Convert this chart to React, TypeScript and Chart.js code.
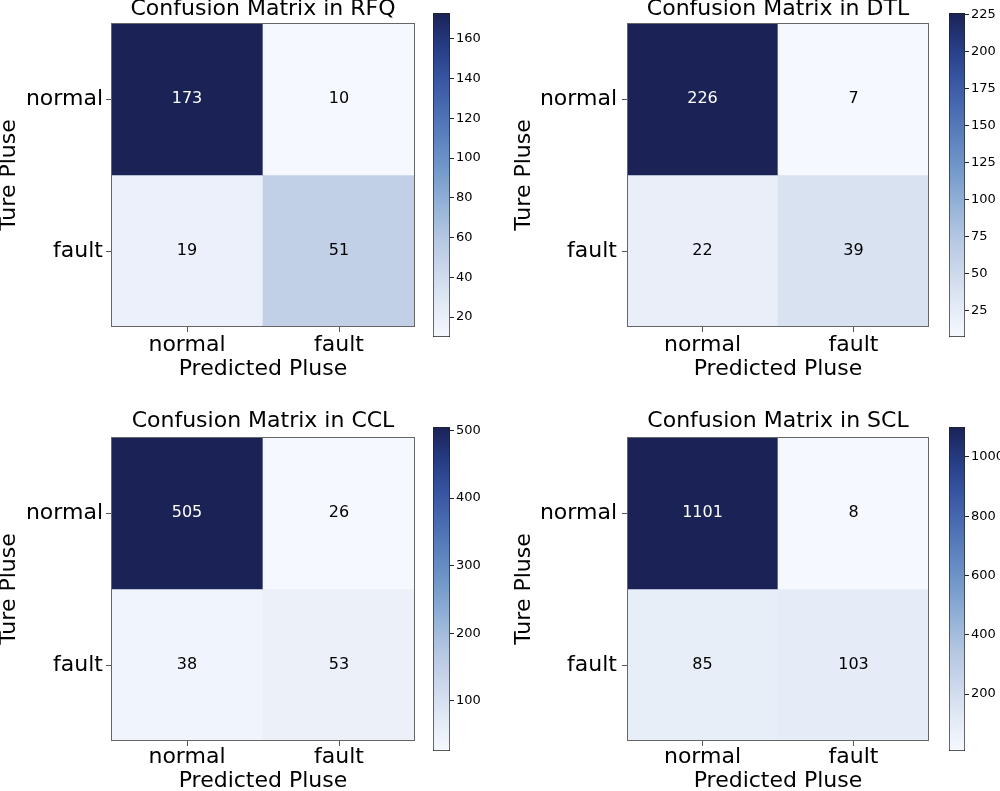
import React, { useEffect, useRef } from "react";
import { Chart, registerables } from "chart.js";

Chart.register(...registerables);
Chart.defaults.font.family = "'DejaVu Sans', 'Liberation Sans', sans-serif";

// ---------- data ----------
const CLASS_LABELS = ["normal", "fault"];
const X_AXIS_TITLE = "Predicted Pluse";
const Y_AXIS_TITLE = "Ture Pluse";

const RFQ_MATRIX = [
  [173, 10],
  [19, 51],
];
const DTL_MATRIX = [
  [226, 7],
  [22, 39],
];
const CCL_MATRIX = [
  [505, 26],
  [38, 53],
];
const SCL_MATRIX = [
  [1101, 8],
  [85, 103],
];

const RFQ_TICKS = [20, 40, 60, 80, 100, 120, 140, 160];
const DTL_TICKS = [25, 50, 75, 100, 125, 150, 175, 200, 225];
const CCL_TICKS = [100, 200, 300, 400, 500];
const SCL_TICKS = [200, 400, 600, 800, 1000];

const TITLES = [
  "Confusion Matrix in RFQ",
  "Confusion Matrix in DTL",
  "Confusion Matrix in CCL",
  "Confusion Matrix in SCL",
];

// Blues-like colour map (as it appears in the picture)
const COLOR_STOPS = [
  "#f5f8fe",
  "#e3eaf6",
  "#ccd8ec",
  "#b6c8e3",
  "#97b4d9",
  "#779dcc",
  "#5f86bf",
  "#4a6db2",
  "#3655a0",
  "#253c82",
  "#1b2256",
];

function hexToRgb(h: string) {
  const n = parseInt(h.slice(1), 16);
  return [(n >> 16) & 255, (n >> 8) & 255, n & 255];
}
function colorFor(t: number) {
  const tt = Math.max(0, Math.min(1, t));
  const pos = tt * (COLOR_STOPS.length - 1);
  const i = Math.min(COLOR_STOPS.length - 2, Math.floor(pos));
  const f = pos - i;
  const a = hexToRgb(COLOR_STOPS[i]);
  const b = hexToRgb(COLOR_STOPS[i + 1]);
  const c = a.map((v, k) => Math.round(v + (b[k] - v) * f));
  return `rgb(${c[0]},${c[1]},${c[2]})`;
}

// ---------- layout ----------
type Panel = {
  matrix: number[][];
  ticks: number[];
  title: string;
  left: number;
  top: number;
  w: number;
  h: number;
  yAxisW: number;
  xAxisH: number;
  padRight: number;
  titlePadTop: number;
  titlePadBottom: number;
  yTitlePad: number;
  yTickPad: number;
  xTickPad: number;
  xTitlePadBottom: number;
  cbLeft: number;
  cbW: number;
  cbPadLeft: number;
  cbAxisW: number;
  cbPadTop: number;
  cbPadBottom: number;
};

const TOP_ROW = {
  top: 0,
  h: 391,
  xAxisH: 64,
  titlePadTop: 0.6,
  titlePadBottom: 4.8,
  xTickPad: 0,
  xTitlePadBottom: 8.4,
  cbPadTop: 13,
  cbPadBottom: 54,
};
const BOTTOM_ROW = {
  top: 391,
  h: 400,
  xAxisH: 50,
  titlePadTop: 21.6,
  titlePadBottom: 6.8,
  xTickPad: -2,
  xTitlePadBottom: -3.6,
  cbPadTop: 36,
  cbPadBottom: 40,
};
const LEFT_COL = {
  left: 0,
  w: 425,
  yAxisW: 111,
  padRight: 10,
  yTitlePad: 0,
  yTickPad: 3,
  cbLeft: 425,
  cbW: 75,
  cbPadLeft: 8,
  cbAxisW: 50,
};
const RIGHT_COL = {
  left: 500,
  w: 440,
  yAxisW: 127,
  padRight: 11,
  yTitlePad: 15,
  yTickPad: 5,
  cbLeft: 940,
  cbW: 60,
  cbPadLeft: 9,
  cbAxisW: 35,
};

const PANELS: Panel[] = [
  { matrix: RFQ_MATRIX, ticks: RFQ_TICKS, title: TITLES[0], ...TOP_ROW, ...LEFT_COL },
  { matrix: DTL_MATRIX, ticks: DTL_TICKS, title: TITLES[1], ...TOP_ROW, ...RIGHT_COL },
  { matrix: CCL_MATRIX, ticks: CCL_TICKS, title: TITLES[2], ...BOTTOM_ROW, ...LEFT_COL },
  { matrix: SCL_MATRIX, ticks: SCL_TICKS, title: TITLES[3], ...BOTTOM_ROW, ...RIGHT_COL },
];

// ---------- plugins ----------
const framePlugin = {
  id: "frame",
  afterDatasetsDraw(chart: any, _args: any, opts: any) {
    const { ctx, chartArea } = chart;
    ctx.save();
    ctx.strokeStyle = opts.color || "#666";
    ctx.lineWidth = 1;
    ctx.strokeRect(
      Math.round(chartArea.left) + 0.5,
      Math.round(chartArea.top) + 0.5,
      Math.round(chartArea.right - chartArea.left) - 1,
      Math.round(chartArea.bottom - chartArea.top) - 1
    );
    ctx.restore();
  },
};

const annotatePlugin = {
  id: "cellText",
  afterDatasetsDraw(chart: any, _args: any, opts: any) {
    const m: number[][] = opts.matrix;
    if (!m) return;
    const flat = m.flat();
    const vmax = Math.max(...flat);
    const { ctx } = chart;
    const xs = chart.scales.x;
    const ys = chart.scales.y;
    ctx.save();
    ctx.font = "16px 'DejaVu Sans', sans-serif";
    ctx.textAlign = "center";
    ctx.textBaseline = "middle";
    m.forEach((row, r) => {
      row.forEach((v, c) => {
        ctx.fillStyle = v > vmax / 2 ? "#ffffff" : "#000000";
        ctx.fillText(String(v), xs.getPixelForValue(c), ys.getPixelForValue(r + 0.5));
      });
    });
    ctx.restore();
  },
};

// ---------- chart builders ----------
function makeMatrixChart(canvas: HTMLCanvasElement, p: Panel) {
  const flat = p.matrix.flat();
  const vmin = Math.min(...flat);
  const vmax = Math.max(...flat);
  const datasets = p.matrix.map((row, r) => ({
    data: row.map(() => [r, r + 1]),
    backgroundColor: row.map((v) => colorFor((v - vmin) / (vmax - vmin))),
    borderWidth: 0,
    barPercentage: 1,
    categoryPercentage: 1,
    grouped: false,
  }));
  return new Chart(canvas, {
    type: "bar",
    data: { labels: CLASS_LABELS, datasets: datasets as any },
    options: {
      responsive: false,
      animation: false,
      events: [],
      layout: { padding: { left: 0, right: p.padRight, top: 0, bottom: 0 } },
      plugins: {
        legend: { display: false },
        tooltip: { enabled: false },
        title: {
          display: true,
          text: p.title,
          fullSize: false,
          color: "#000",
          font: { size: 22, lineHeight: 0.8, weight: "normal" },
          padding: { top: p.titlePadTop, bottom: p.titlePadBottom },
        },
        frame: { color: "#666" },
        cellText: { matrix: p.matrix },
      } as any,
      scales: {
        x: {
          type: "category",
          offset: true,
          grid: {
            display: true,
            drawOnChartArea: false,
            drawTicks: true,
            tickLength: 5,
            color: "#555",
            offset: false,
          },
          border: { display: false },
          ticks: {
            color: "#000",
            font: { size: 22 },
            padding: p.xTickPad,
            maxRotation: 0,
            autoSkip: false,
          },
          title: {
            display: true,
            text: X_AXIS_TITLE,
            color: "#000",
            font: { size: 22, lineHeight: 1.2 },
            padding: { top: 0, bottom: p.xTitlePadBottom },
          },
          afterFit: (s: any) => {
            s.height = p.xAxisH;
          },
        },
        y: {
          type: "linear",
          min: 0,
          max: 2,
          reverse: true,
          afterBuildTicks: (s: any) => {
            s.ticks = CLASS_LABELS.map((_, i) => ({ value: i + 0.5 }));
          },
          grid: {
            display: true,
            drawOnChartArea: false,
            drawTicks: true,
            tickLength: 5,
            color: "#555",
          },
          border: { display: false },
          ticks: {
            color: "#000",
            font: { size: 22 },
            padding: p.yTickPad,
            callback: (_v: any, i: number) => CLASS_LABELS[i],
          },
          title: {
            display: true,
            text: Y_AXIS_TITLE,
            color: "#000",
            font: { size: 22, lineHeight: 0.8 },
            padding: { top: p.yTitlePad, bottom: 0 },
          },
          afterFit: (s: any) => {
            s.width = p.yAxisW;
          },
        },
      } as any,
    },
    plugins: [framePlugin, annotatePlugin],
  });
}

function makeColorbarChart(canvas: HTMLCanvasElement, p: Panel) {
  const flat = p.matrix.flat();
  const vmin = Math.min(...flat);
  const vmax = Math.max(...flat);
  return new Chart(canvas, {
    type: "bar",
    data: {
      labels: [""],
      datasets: [
        {
          data: [[vmin, vmax]] as any,
          backgroundColor: (ctx: any) => {
            const chart = ctx.chart;
            const area = chart.chartArea;
            if (!area) return COLOR_STOPS[0];
            const g = chart.ctx.createLinearGradient(0, area.bottom, 0, area.top);
            COLOR_STOPS.forEach((c, i) => g.addColorStop(i / (COLOR_STOPS.length - 1), c));
            return g;
          },
          borderColor: "#222",
          borderWidth: 1,
          borderSkipped: false,
          barPercentage: 1,
          categoryPercentage: 1,
        } as any,
      ],
    },
    options: {
      responsive: false,
      animation: false,
      events: [],
      layout: { padding: { left: p.cbPadLeft, right: 0, top: p.cbPadTop, bottom: p.cbPadBottom } },
      plugins: { legend: { display: false }, tooltip: { enabled: false }, title: { display: false } },
      scales: {
        x: { display: false },
        y: {
          type: "linear",
          position: "right",
          min: vmin,
          max: vmax,
          afterBuildTicks: (s: any) => {
            s.ticks = p.ticks.map((v) => ({ value: v }));
          },
          grid: { display: true, drawOnChartArea: false, drawTicks: true, tickLength: 4, color: "#222" },
          border: { display: false },
          ticks: {
            color: "#000",
            font: { size: 13 },
            padding: 2,
            callback: (v: any) => String(v),
          },
          afterFit: (s: any) => {
            s.width = p.cbAxisW;
          },
        },
      } as any,
    },
  });
}

// ---------- components ----------
function ChartCanvas({
  left,
  top,
  width,
  height,
  build,
}: {
  left: number;
  top: number;
  width: number;
  height: number;
  build: (c: HTMLCanvasElement) => Chart;
}) {
  const ref = useRef<HTMLCanvasElement | null>(null);
  useEffect(() => {
    if (!ref.current) return;
    const chart = build(ref.current);
    return () => chart.destroy();
  }, []);
  return (
    <canvas
      ref={ref}
      width={width}
      height={height}
      style={{ position: "absolute", left, top, width, height }}
    />
  );
}

export default function App() {
  useEffect(() => {
    document.body.style.margin = "0";
    document.body.style.background = "#ffffff";
  }, []);
  return (
    <div
      style={{
        position: "relative",
        width: 1000,
        height: 791,
        overflow: "hidden",
        background: "#ffffff",
      }}
    >
      {PANELS.map((p, i) => (
        <React.Fragment key={i}>
          <ChartCanvas
            left={p.left}
            top={p.top}
            width={p.w}
            height={p.h}
            build={(c) => makeMatrixChart(c, p)}
          />
          <ChartCanvas
            left={p.cbLeft}
            top={p.top}
            width={p.cbW}
            height={p.h}
            build={(c) => makeColorbarChart(c, p)}
          />
        </React.Fragment>
      ))}
    </div>
  );
}
